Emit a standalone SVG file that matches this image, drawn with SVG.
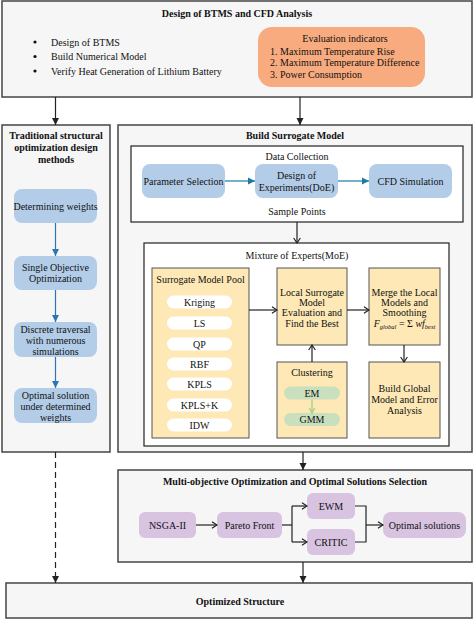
<svg xmlns="http://www.w3.org/2000/svg" width="474" height="619" viewBox="0 0 474 619">
<defs>
<style>
text{font-family:"Liberation Serif","Times New Roman",serif;fill:#111;font-size:10px}
.b{font-weight:bold}
.m{text-anchor:middle}
.frame{fill:#f6f6f6;stroke:#505050;stroke-width:1.6}
.inner{fill:#fff;stroke:#222;stroke-width:1.2}
.blue{fill:#b3cde9}
.yel{fill:#fde8b6;stroke:#555;stroke-width:1}
.pill{fill:#fff}
.grn{fill:#c9e0bf}
.pur{fill:#d8c3e1}
.ln{fill:none;stroke:#222;stroke-width:1.2}
</style>
<marker id="ah" viewBox="0 0 10 10" refX="10" refY="5" markerWidth="6" markerHeight="6" orient="auto"><path d="M0,0L10,5L0,10z" fill="#222"/></marker>
<marker id="ahb" viewBox="0 0 10 10" refX="10" refY="5" markerWidth="6" markerHeight="6" orient="auto"><path d="M0,0L10,5L0,10z" fill="#2e75b6"/></marker>
<marker id="aht" viewBox="0 0 10 10" refX="10" refY="5" markerWidth="6" markerHeight="6" orient="auto"><path d="M0,0L10,5L0,10z" fill="#1c7aa6"/></marker>
<marker id="ao" viewBox="0 0 10 10" refX="9" refY="5" markerWidth="7" markerHeight="7" orient="auto"><path d="M3,1L9,5L3,9" fill="none" stroke="#222" stroke-width="1.4"/></marker>
<marker id="ag" viewBox="0 0 10 10" refX="9" refY="5" markerWidth="6" markerHeight="6" orient="auto"><path d="M2,1L9,5L2,9" fill="none" stroke="#9ccc8a" stroke-width="1.4"/></marker>
</defs>

<g id="top">
<rect class="frame" x="2" y="1" width="470" height="96"/>
<text class="b m" x="237" y="17">Design of BTMS and CFD Analysis</text>
<circle cx="35" cy="42" r="1.6" fill="#111"/>
<circle cx="35" cy="56.5" r="1.6" fill="#111"/>
<circle cx="35" cy="71" r="1.6" fill="#111"/>
<text x="51" y="45.5">Design of BTMS</text>
<text x="51" y="60">Build Numerical Model</text>
<text x="51" y="74.5">Verify Heat Generation of Lithium Battery</text>
</g>
<g id="eval">
<rect x="258" y="27" width="167" height="60" rx="14" fill="#f8ab7f"/>
<text class="m" x="345" y="42">Evaluation indicators</text>
<text x="270" y="54.5">1.  Maximum Temperature Rise</text>
<text x="270" y="66">2.  Maximum Temperature Difference</text>
<text x="270" y="77.5">3.  Power Consumption</text>
</g>

<g id="traditional">
<rect class="frame" x="2" y="125" width="108" height="327"/>
<text class="b m" x="56" y="138.5">Traditional structural</text>
<text class="b m" x="56" y="150.5">optimization design</text>
<text class="b m" x="56" y="162.5">methods</text>
</g>
<g id="t1"><rect class="blue" x="14" y="189" width="83" height="34" rx="8"/><text class="m" x="55.5" y="209.5">Determining weights</text></g>
<g id="t2"><rect class="blue" x="14" y="256" width="83" height="34" rx="8"/><text class="m" x="55.5" y="270.5">Single Objective</text><text class="m" x="55.5" y="282">Optimization</text></g>
<g id="t3"><rect class="blue" x="14" y="322" width="83" height="35" rx="8"/><text class="m" x="55.5" y="332.5">Discrete traversal</text><text class="m" x="55.5" y="343.5">with numerous</text><text class="m" x="55.5" y="354.5">simulations</text></g>
<g id="t4"><rect class="blue" x="14" y="388" width="83" height="35" rx="8"/><text class="m" x="55.5" y="398.5">Optimal solution</text><text class="m" x="55.5" y="409.5">under determined</text><text class="m" x="55.5" y="420.5">weights</text></g>

<g id="surrogate">
<rect class="frame" x="118" y="125" width="354" height="327"/>
<text class="b m" x="295" y="138.5">Build Surrogate Model</text>
</g>
<g id="datacollection">
<rect class="inner" x="131" y="146" width="332" height="76"/>
<text class="m" x="297" y="159.5">Data Collection</text>
<text class="m" x="297" y="215">Sample Points</text>
</g>
<g id="d1"><rect class="blue" x="142" y="164" width="83" height="34" rx="8"/><text class="m" x="183.5" y="184.5">Parameter Selection</text></g>
<g id="d2"><rect class="blue" x="255" y="164" width="83" height="34" rx="8"/><text class="m" x="296.5" y="178.5">Design of</text><text class="m" x="296.5" y="190.5">Experiments(DoE)</text></g>
<g id="d3"><rect class="blue" x="369" y="164" width="83" height="34" rx="8"/><text class="m" x="410.5" y="184.5">CFD Simulation</text></g>

<g id="moe">
<rect class="inner" x="144" y="243" width="305" height="203"/>
<text class="m" x="297" y="258.5">Mixture of Experts(MoE)</text>
</g>
<g id="pool">
<rect class="yel" x="152" y="268" width="97" height="170"/>
<text class="m" x="200.5" y="282.5">Surrogate Model Pool</text>
<rect class="pill" x="167" y="295.5" width="65" height="13" rx="6.5"/><text class="m" x="199.5" y="305.5" font-size="9">Kriging</text>
<rect class="pill" x="167" y="316.5" width="65" height="13" rx="6.5"/><text class="m" x="199.5" y="326.5" font-size="9">LS</text>
<rect class="pill" x="167" y="337.5" width="65" height="13" rx="6.5"/><text class="m" x="199.5" y="347.5" font-size="9">QP</text>
<rect class="pill" x="167" y="357.5" width="65" height="13" rx="6.5"/><text class="m" x="199.5" y="367.5" font-size="9">RBF</text>
<rect class="pill" x="167" y="377.5" width="65" height="13" rx="6.5"/><text class="m" x="199.5" y="387.5" font-size="9">KPLS</text>
<rect class="pill" x="167" y="398.5" width="65" height="13" rx="6.5"/><text class="m" x="199.5" y="408.5" font-size="9">KPLS+K</text>
<rect class="pill" x="167" y="418.5" width="65" height="13" rx="6.5"/><text class="m" x="199.5" y="428.5" font-size="9">IDW</text>
</g>
<g id="local">
<rect class="yel" x="277" y="268" width="70" height="77"/>
<text class="m" x="312" y="295.5">Local Surrogate</text>
<text class="m" x="312" y="305.5">Model</text>
<text class="m" x="312" y="315.5">Evaluation and</text>
<text class="m" x="312" y="326.5">Find the Best</text>
</g>
<g id="merge">
<rect class="yel" x="369" y="268" width="71" height="77"/>
<text class="m" x="404.5" y="295.5">Merge the Local</text>
<text class="m" x="404.5" y="305.5">Models and</text>
<text class="m" x="404.5" y="315.5">Smoothing</text>
<text class="m" x="404.5" y="326.5" font-style="italic">F<tspan font-size="6.5" dy="2">global</tspan><tspan dy="-2" font-style="normal"> = Σ </tspan>wf<tspan font-size="6.5" dy="2">best</tspan></text>
</g>
<g id="clustering">
<rect class="yel" x="277" y="362" width="70" height="76"/>
<text class="m" x="312" y="375.5">Clustering</text>
<rect class="grn" x="284" y="386.5" width="56" height="13" rx="6.5"/><text class="m" x="312" y="396.5" font-size="9">EM</text>
<rect class="grn" x="284" y="413" width="56" height="13" rx="6.5"/><text class="m" x="312" y="423" font-size="9">GMM</text>
</g>
<g id="global">
<rect class="yel" x="369" y="362" width="71" height="76"/>
<text class="m" x="404.5" y="391.5">Build Global</text>
<text class="m" x="404.5" y="402.5">Model and Error</text>
<text class="m" x="404.5" y="414">Analysis</text>
</g>

<g id="multi">
<rect class="frame" x="118" y="470" width="354" height="92"/>
<text class="b m" x="295" y="484.5">Multi-objective Optimization and Optimal Solutions Selection</text>
</g>
<g id="nsga"><rect class="pur" x="139" y="512" width="57" height="26" rx="6"/><text class="m" x="167.5" y="528.5">NSGA-II</text></g>
<g id="pareto"><rect class="pur" x="217" y="512" width="65" height="26" rx="6"/><text class="m" x="249.5" y="528.5">Pareto Front</text></g>
<g id="ewm"><rect class="pur" x="307" y="493" width="48" height="26" rx="6"/><text class="m" x="331" y="509.5">EWM</text></g>
<g id="critic"><rect class="pur" x="307" y="529" width="48" height="26" rx="6"/><text class="m" x="331" y="545.5">CRITIC</text></g>
<g id="optimal"><rect class="pur" x="383" y="512" width="83" height="26" rx="8"/><text class="m" x="424.5" y="528.5">Optimal solutions</text></g>

<g id="optimized">
<rect class="frame" x="6" y="583" width="466" height="35"/>
<text class="b m" x="240" y="604.5">Optimized Structure</text>
</g>

<g id="connectors">
<line class="ln" x1="55.5" y1="97" x2="55.5" y2="125" marker-end="url(#ah)"/>
<line class="ln" x1="300" y1="97" x2="300" y2="125" marker-end="url(#ah)"/>
<line x1="55.5" y1="223" x2="55.5" y2="256" stroke="#2e75b6" stroke-width="1.2" marker-end="url(#ahb)"/>
<line x1="55.5" y1="290" x2="55.5" y2="322" stroke="#2e75b6" stroke-width="1.2" marker-end="url(#ahb)"/>
<line x1="55.5" y1="357" x2="55.5" y2="388" stroke="#2e75b6" stroke-width="1.2" marker-end="url(#ahb)"/>
<line x1="55.5" y1="452" x2="55.5" y2="583" stroke="#222" stroke-width="1.2" stroke-dasharray="6,4" marker-end="url(#ah)"/>
<line x1="225" y1="181" x2="255" y2="181" stroke="#1c7aa6" stroke-width="1.2" marker-end="url(#aht)"/>
<line x1="338" y1="181" x2="369" y2="181" stroke="#1c7aa6" stroke-width="1.2" marker-end="url(#aht)"/>
<line class="ln" x1="297" y1="222" x2="297" y2="243" marker-end="url(#ao)"/>
<line class="ln" x1="249" y1="310" x2="277" y2="310" marker-end="url(#ao)"/>
<line class="ln" x1="347" y1="310" x2="369" y2="310" marker-end="url(#ao)"/>
<line class="ln" x1="312" y1="362" x2="312" y2="345" marker-end="url(#ao)"/>
<line class="ln" x1="404" y1="345" x2="404" y2="362" marker-end="url(#ao)"/>
<line x1="312" y1="399.5" x2="312" y2="413" stroke="#9ccc8a" stroke-width="1.2" marker-end="url(#ag)"/>
<line class="ln" x1="303" y1="452" x2="303" y2="470" marker-end="url(#ah)"/>
<line class="ln" x1="196" y1="525" x2="217" y2="525" marker-end="url(#ao)"/>
<path class="ln" d="M282,525H292"/>
<path class="ln" d="M292,506V542"/>
<line class="ln" x1="292" y1="506" x2="307" y2="506" marker-end="url(#ao)"/>
<line class="ln" x1="292" y1="542" x2="307" y2="542" marker-end="url(#ao)"/>
<path class="ln" d="M355,506H366V542H355"/>
<line class="ln" x1="366" y1="525" x2="383" y2="525" marker-end="url(#ao)"/>
<line class="ln" x1="303" y1="562" x2="303" y2="583" marker-end="url(#ah)"/>
</g>
</svg>
